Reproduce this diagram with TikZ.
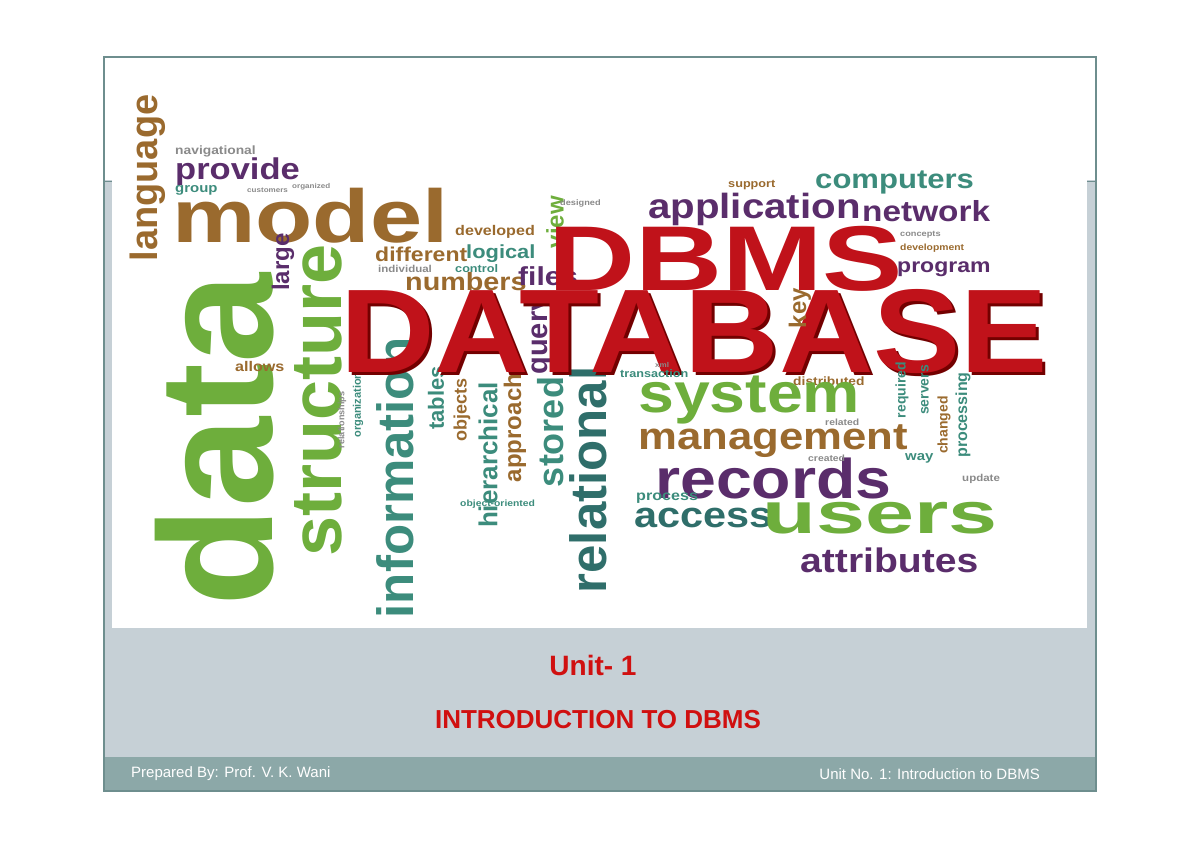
\documentclass[tikz,border=0pt]{standalone}
\usepackage{fontspec}
\setmainfont{Liberation Sans}
\newcommand{\fsz}[1]{\fontsize{#1}{#1}\selectfont\bfseries}
\definecolor{cgreen}{HTML}{6EAE3C}
\definecolor{cbrown}{HTML}{9A6A2E}
\definecolor{cpurple}{HTML}{5A2D6B}
\definecolor{cteal}{HTML}{3C8C7C}
\definecolor{cdteal}{HTML}{2F6E6A}
\definecolor{cgray}{HTML}{8A8A8A}
\definecolor{cred}{HTML}{C0121A}
\definecolor{slidebg}{HTML}{C6D0D6}
\definecolor{footbg}{HTML}{8CA8A8}
\definecolor{framec}{HTML}{6E8E8E}
\definecolor{titlered}{HTML}{D01010}
\tikzset{w/.style={inner sep=0pt,anchor=center},
 wl/.style={inner sep=0pt,anchor=west,xscale=1.15},
 foot/.style={inner sep=0pt,text=white,font=\fontsize{15}{15}\selectfont}}
\begin{document}
\begin{tikzpicture}[x=1pt,y=1pt]
\useasboundingbox (0,0) rectangle (1200,-848);
\fill[white] (0,0) rectangle (1200,-848);
% slide
\fill[slidebg] (104,-180) rectangle (1096,-757);
\fill[footbg] (104,-757) rectangle (1096,-791);
\draw[framec,line width=1.2pt] (104,-57) rectangle (1096,-791);
\draw[framec] (104,-181) -- (112,-181) (1087,-181) -- (1096,-181);
\fill[white] (112,-65) rectangle (1087,-628);
% word cloud
\node[w,rotate=90,text=cgreen,font=\fsz{162}] (data) at (215,-440) {data};
\node[w,rotate=90,text=cbrown,font=\fsz{38}] (lang) at (148,-178) {language};
\node[wl,text=cgray,font=\fsz{12}] (nav) at (175,-151) {navigational};
\node[wl,text=cpurple,font=\fsz{30}] (prov) at (175,-172) {provide};
\node[wl,text=cteal,font=\fsz{13}] (grp) at (175,-190) {group};
\node[wl,text=cgray,font=\fsz{7}] (cust) at (247,-190) {customers};
\node[wl,text=cgray,font=\fsz{7}] (orgz) at (292,-187) {organized};
\node[wl,text=cbrown,font=\fsz{75},xscale=1.087] (model) at (172,-216) {model};
\node[w,rotate=90,text=cgreen,font=\fsz{72}] (struct) at (318,-400) {structure};
\node[w,rotate=90,text=cpurple,font=\fsz{24}] (large) at (283,-262) {large};
\node[wl,text=cbrown,font=\fsz{14}] (allows) at (235,-366) {allows};
\node[w,rotate=90,text=cteal,font=\fsz{51}] (info) at (395,-478) {information};
\node[w,rotate=90,text=cteal,font=\fsz{11}] (org) at (358,-405) {organization};
\node[w,rotate=90,text=cgray,font=\fsz{9}] (rel) at (342,-420) {relationships};
\node[w,rotate=90,text=cteal,font=\fsz{22}] (tables) at (436,-398) {tables};
\node[w,rotate=90,text=cbrown,font=\fsz{18}] (obj) at (462,-410) {objects};
\node[w,rotate=90,text=cteal,font=\fsz{26}] (hier) at (488,-455) {hierarchical};
\node[w,rotate=90,text=cbrown,font=\fsz{24}] (appr) at (515,-428) {approach};
\node[w,rotate=90,text=cteal,font=\fsz{36}] (stored) at (551,-432) {stored};
\node[w,rotate=90,text=cdteal,font=\fsz{51}] (relat) at (588,-480) {relational};
\node[w,rotate=90,text=cpurple,font=\fsz{29}] (query) at (543,-335) {query};
\node[w,rotate=90,text=cgreen,font=\fsz{24}] (view) at (555,-222) {view};
\node[wl,text=cbrown,font=\fsz{14}] (dev) at (455,-232) {developed};
\node[wl,text=cbrown,font=\fsz{20}] (diff) at (375,-254) {different};
\node[wl,text=cteal,font=\fsz{19}] (log) at (466,-254) {logical};
\node[wl,text=cgray,font=\fsz{10}] (indiv) at (378,-269) {individual};
\node[wl,text=cteal,font=\fsz{11}] (ctrl) at (455,-269) {control};
\node[wl,text=cbrown,font=\fsz{25}] (num) at (405,-282) {numbers};
\node[wl,text=cpurple,font=\fsz{26}] (files) at (518,-276) {files};
\node[wl,text=cgray,font=\fsz{8}] (desig) at (560,-203) {designed};
\node[wl,text=cbrown,font=\fsz{11}] (supp) at (728,-185) {support};
\node[wl,text=cteal,font=\fsz{27}] (comp) at (815,-182) {computers};
\node[wl,text=cpurple,font=\fsz{35}] (appl) at (648,-209) {application};
\node[wl,text=cpurple,font=\fsz{29}] (net) at (862,-211) {network};
\node[wl,text=cgray,font=\fsz{8}] (conc) at (900,-235) {concepts};
\node[wl,text=cbrown,font=\fsz{9}] (devel) at (900,-248) {development};
\node[wl,text=cpurple,font=\fsz{20}] (prog) at (897,-269) {program};
\node[wl,text=cred,font=\fsz{92},xscale=1.14] (dbms) at (548,-259) {DBMS};
\node[wl,text=red!45!black,font=\fsz{119},xscale=0.957] (dbs) at (343,-335) {DATABASE};
\node[wl,text=cred,font=\fsz{119},xscale=0.957] (db) at (340,-332) {DATABASE};
\node[w,rotate=90,text=cbrown,font=\fsz{24}] (key) at (800,-308) {key};
\node[wl,text=cteal,font=\fsz{11}] (trans) at (620,-374) {transaction};
\node[wl,text=cgray,font=\fsz{7}] (xml) at (655,-365) {xml};
\node[wl,text=cbrown,font=\fsz{12}] (distr) at (793,-381) {distributed};
\node[wl,text=cgreen,font=\fsz{56}] (sys) at (638,-400) {system};
\node[wl,text=cbrown,font=\fsz{38}] (mgmt) at (638,-441) {management};
\node[wl,text=cgray,font=\fsz{9}] (relt) at (825,-422) {related};
\node[w,rotate=90,text=cteal,font=\fsz{14}] (req) at (902,-390) {required};
\node[w,rotate=90,text=cteal,font=\fsz{14}] (serv) at (925,-390) {servers};
\node[w,rotate=90,text=cbrown,font=\fsz{14}] (chg) at (944,-425) {changed};
\node[w,rotate=90,text=cteal,font=\fsz{16}] (proc) at (963,-415) {processing};
\node[wl,text=cpurple,font=\fsz{56}] (rec) at (655,-478) {records};
\node[wl,text=cteal,font=\fsz{13}] (way) at (905,-458) {way};
\node[wl,text=cgray,font=\fsz{9}] (crt) at (808,-458) {created};
\node[wl,text=cgray,font=\fsz{10}] (upd) at (962,-479) {update};
\node[wl,text=cteal,font=\fsz{14}] (process) at (636,-498) {process};
\node[wl,text=cteal,font=\fsz{9}] (oo) at (460,-504) {object-oriented};
\node[wl,text=cdteal,font=\fsz{36}] (acc) at (634,-518) {access};
\node[wl,text=cgreen,font=\fsz{58},xscale=1.32] (users) at (762,-518) {users};
\node[wl,text=cpurple,font=\fsz{34}] (attr) at (800,-560) {attributes};
% titles
\node[w,text=titlered,font=\fsz{28}] (unit) at (593,-665) {Unit- 1};
\node[w,text=titlered,font=\fsz{26}] (intro) at (598,-720) {INTRODUCTION TO DBMS};
\node[foot,anchor=west] (prep) at (131,-774) {Prepared By: Prof. V. K. Wani};
\node[foot,anchor=east] (unitno) at (1040,-774) {Unit No. 1: Introduction to DBMS};
\end{tikzpicture}
\end{document}
